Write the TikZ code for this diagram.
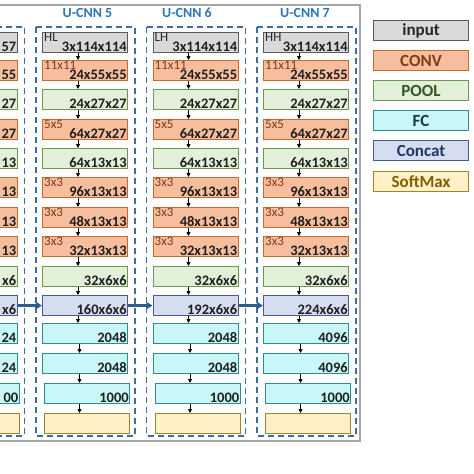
\documentclass[tikz,border=0pt]{standalone}
\usepackage{fontspec}
\setmainfont{Carlito}
\usetikzlibrary{arrows.meta}
\definecolor{framegray}{HTML}{A6A6A6}
\definecolor{dashblue}{HTML}{3E6E9E}
\definecolor{titleblue}{HTML}{2E75B6}
\definecolor{catarrow}{HTML}{2F5C8A}
\definecolor{inpfill}{HTML}{D9D9D9}\definecolor{inpdraw}{HTML}{595959}
\definecolor{convfill}{HTML}{F7BE9E}\definecolor{convdraw}{HTML}{C46A35}
\definecolor{poolfill}{HTML}{E2F0D9}\definecolor{pooldraw}{HTML}{6A9A50}
\definecolor{fcfill}{HTML}{C9F7F7}\definecolor{fcdraw}{HTML}{2F8C8C}
\definecolor{catfill}{HTML}{D6DDF0}\definecolor{catdraw}{HTML}{4A5A8C}
\definecolor{smfill}{HTML}{FFF0C8}\definecolor{smdraw}{HTML}{A0842C}
\definecolor{convtxt}{HTML}{843A14}
\definecolor{pooltxt}{HTML}{375623}
\definecolor{fctxt}{HTML}{1A3A3A}
\definecolor{cattxt}{HTML}{1F3864}
\definecolor{smtxt}{HTML}{7F6000}
\tikzset{
  bx/.style={draw, line width=1.1pt, minimum width=85pt, minimum height=20pt, inner sep=0pt},
  inp/.style={fill=inpfill, draw=inpdraw},
  conv/.style={fill=convfill, draw=convdraw},
  pool/.style={fill=poolfill, draw=pooldraw},
  fc/.style={fill=fcfill, draw=fcdraw},
  cat/.style={fill=catfill, draw=catdraw},
  sm/.style={fill=smfill, draw=smdraw},
  mainlbl/.style={inner sep=0pt, font=\fontsize{14.5}{14.5}\selectfont\bfseries, text=black!88},
  taglbl/.style={inner sep=0pt, font=\fontsize{13}{13}\selectfont},
  colbox/.style={draw=dashblue, line width=1.4pt, dash pattern=on 6pt off 4pt},
  varrow/.style={draw=black, line width=0.8pt, -{Triangle[length=4pt,width=4pt]}},
  carrow/.style={draw=catarrow, line width=2.2pt, -{Triangle[length=6pt,width=7pt]}},
  legbox/.style={draw, line width=1.1pt, minimum width=95pt, minimum height=20pt, inner sep=0pt, anchor=north west, font=\fontsize{17}{17}\selectfont\bfseries},
  ttl/.style={text=titleblue, font=\fontsize{14}{14}\selectfont\bfseries, inner sep=0pt}
}
\newcommand{\mybox}[5]{% name, style, xleft, ytop, main text
  \node[bx,#2,anchor=north west] (#1) at (#3,#4) {};
  \node[mainlbl,anchor=base east] (#1m) at ([xshift=-1.2pt,yshift=2pt]#1.south east) {#5};
}
\newcommand{\tagit}[3]{% box name, text, colour
  \node[taglbl,text=#3,anchor=base west] (#1t) at ([xshift=2pt,yshift=-9.5pt]#1.north west) {#2};
}
\newcommand{\ucnn}[7]{% id, xleft, input tag, concat, fc1, fc2, fc3
  \mybox{#1a}{inp}{#2}{32}{3x114x114}\tagit{#1a}{#3}{black!85}
  \mybox{#1b}{conv}{#2}{60}{24x55x55}\tagit{#1b}{11x11}{convtxt}
  \mybox{#1c}{pool}{#2}{89}{24x27x27}
  \mybox{#1d}{conv}{#2}{119}{64x27x27}\tagit{#1d}{5x5}{convtxt}
  \mybox{#1e}{pool}{#2}{148}{64x13x13}
  \mybox{#1f}{conv}{#2}{177}{96x13x13}\tagit{#1f}{3x3}{convtxt}
  \mybox{#1g}{conv}{#2}{207}{48x13x13}\tagit{#1g}{3x3}{convtxt}
  \mybox{#1h}{conv}{#2}{236}{32x13x13}\tagit{#1h}{3x3}{convtxt}
  \mybox{#1i}{pool}{#2}{266}{32x6x6}
  \mybox{#1j}{cat}{#2}{295}{#4}
  \mybox{#1k}{fc}{#2}{323}{#5}
  \mybox{#1l}{fc}{#2}{353}{#6}
  \mybox{#1m}{fc}{#2+2}{383}{#7}
  \node[bx,sm,anchor=north west] (#1n) at (#2+2,413) {};
  \coordinate (#1x) at (#2+36,0);
  \coordinate (#1y) at (#2+37.5,0);
  \foreach \p/\q in {a/b,b/c,c/d,d/e,e/f,f/g,g/h,h/i,i/j,j/k}{
    \draw[varrow] (#1\p.south -| #1x) -- (#1\q.north -| #1x);
  }
  \foreach \p/\q in {k/l,l/m,m/n}{
    \draw[varrow] (#1\p.south -| #1y) -- (#1\q.north -| #1y);
  }
}
\begin{document}
\begin{tikzpicture}[x=1pt,y=-1pt]
\useasboundingbox (0,0) rectangle (474,474);
\fill[white] (0,0) rectangle (474,474);
\begin{scope}
\clip (0,0) rectangle (474,474);
\draw[framegray, line width=2pt] (-20,5) rectangle (360,441);
\foreach \c in {-1,0,1,2}{
  \draw[colbox] (36+110.5*\c,27) rectangle (135+110.5*\c,436);
}
% previous (partly visible) column
\mybox{pa}{inp}{-68.5}{32}{57}
\mybox{pb}{conv}{-68.5}{60}{55}
\mybox{pc}{pool}{-68.5}{89}{27}
\mybox{pd}{conv}{-68.5}{119}{27}
\mybox{pe}{pool}{-68.5}{148}{13}
\mybox{pf}{conv}{-68.5}{177}{13}
\mybox{pg}{conv}{-68.5}{207}{13}
\mybox{ph}{conv}{-68.5}{236}{13}
\mybox{pi}{pool}{-68.5}{266}{x6}
\mybox{pj}{cat}{-68.5}{295}{x6}
\mybox{pk}{fc}{-68.5}{323}{24}
\mybox{pl}{fc}{-68.5}{353}{24}
\mybox{pm}{fc}{-66.5}{383}{00}
\node[bx,sm,anchor=north west] (pn) at (-66.5,413) {};
\end{scope}
\ucnn{u}{42}{HL}{160x6x6}{2048}{2048}{1000}
\ucnn{v}{152.5}{LH}{192x6x6}{2048}{2048}{1000}
\ucnn{w}{263}{HH}{224x6x6}{4096}{4096}{1000}
\node[ttl] (t5) at (87.5,13) {U-CNN 5};
\node[ttl] (t6) at (187,13) {U-CNN 6};
\node[ttl] (t7) at (305,13) {U-CNN 7};
\draw[carrow] (pj.east) -- (uj.west);
\draw[carrow] (uj.east) -- (vj.west);
\draw[carrow] (vj.east) -- (wj.west);
% legend
\node[legbox,inp,text=black!85] (l1) at (373,20) {input};
\node[legbox,conv,text=convtxt] (l2) at (373,50) {CONV};
\node[legbox,pool,text=pooltxt] (l3) at (373,80) {POOL};
\node[legbox,fc,text=fctxt] (l4) at (373,110) {FC};
\node[legbox,cat,text=cattxt] (l5) at (373,140) {Concat};
\node[legbox,sm,text=smtxt] (l6) at (373,171) {SoftMax};
\end{tikzpicture}
\end{document}
